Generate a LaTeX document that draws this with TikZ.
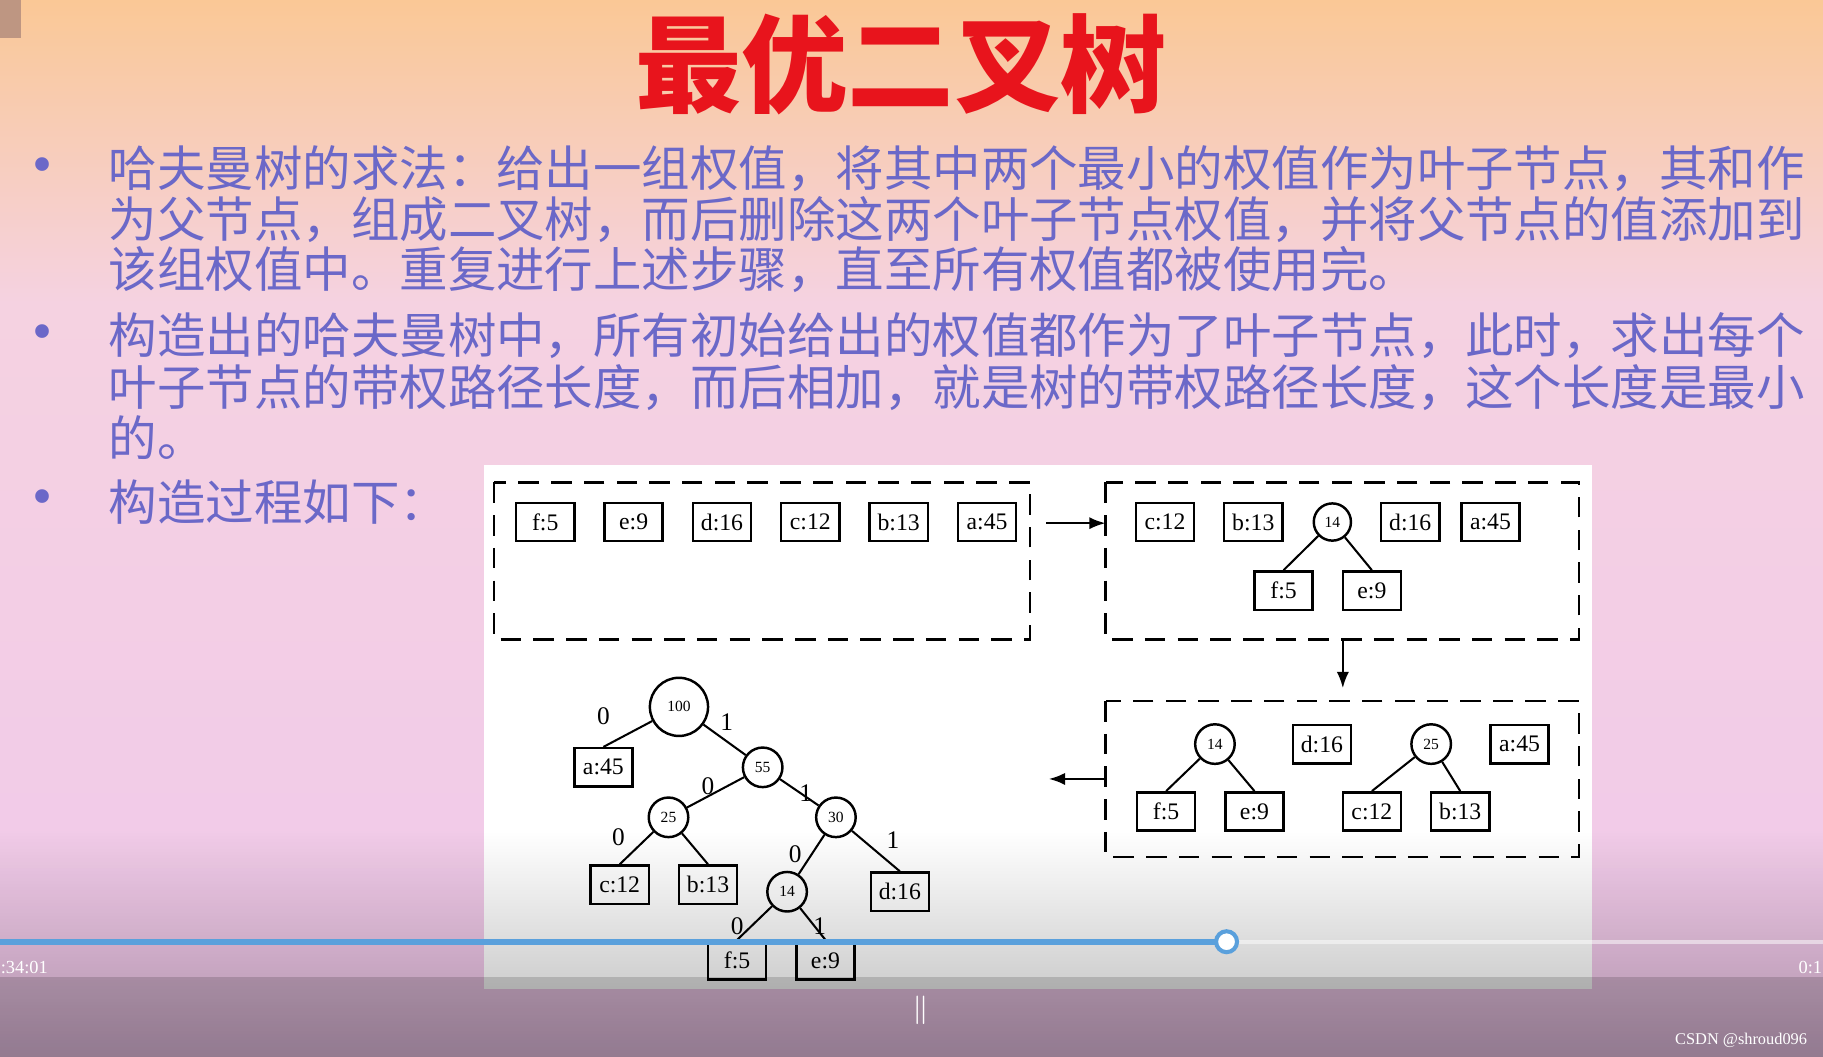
\documentclass[tikz,border=0pt]{standalone}
\usepackage{fontspec}
\setmainfont{Liberation Serif}
\newfontfamily\cjk{Noto Sans CJK SC}
\usetikzlibrary{fadings,arrows.meta}
\definecolor{txtblue}{HTML}{6B68C8}
\definecolor{titlered}{HTML}{E8141C}
\definecolor{bgtop}{RGB}{250,200,150}
\definecolor{bgmid}{RGB}{245,210,225}
\definecolor{bgbot}{RGB}{240,200,235}
\definecolor{corner}{RGB}{190,150,130}
\definecolor{prog}{RGB}{90,160,220}
\begin{document}
\begin{tikzpicture}[x=0.01cm,y=-0.01cm,
  lf/.style={draw,semithick,minimum width=0.5cm,minimum height=0.33cm,inner sep=0pt,font=\fontsize{5.8}{7}\selectfont,fill=white},
  cn/.style={draw,circle,semithick,inner sep=0pt,font=\fontsize{3.8}{5}\selectfont,fill=white},
  lab/.style={font=\fontsize{6.2}{7}\selectfont,inner sep=0pt},
  ln/.style={line width=0.5pt},
  dbox/.style={draw,semithick,dash pattern=on 5pt off 3pt},
  arr/.style={semithick,-{Latex[length=4pt]}},
  line/.style={anchor=west,inner sep=0pt,text=txtblue,font=\cjk\fontsize{11.85}{13}\selectfont},
  bul/.style={text=txtblue,font=\fontsize{14}{14}\selectfont,inner sep=0pt}]
\useasboundingbox (0,0) rectangle (1568,909);
\shade[top color=bgtop,bottom color=bgmid] (0,0) rectangle (1568,260);
\shade[top color=bgmid,bottom color=bgbot] (0,259) rectangle (1568,909);
\fill[corner] (0,0) rectangle (18,33);
\node[text=titlered,font=\cjk\bfseries\fontsize{26}{28}\selectfont] (title) at (775,55) {最优二叉树};
\node[bul] (b1) at (37,147) {•};
\node[bul] (b2) at (37,290) {•};
\node[bul] (b3) at (37,432) {•};
\node[line] (l1) at (93,145) {哈夫曼树的求法：给出一组权值，将其中两个最小的权值作为叶子节点，其和作};
\node[line] (l2) at (93,189) {为父节点，组成二叉树，而后删除这两个叶子节点权值，并将父节点的值添加到};
\node[line] (l3) at (93,232) {该组权值中。重复进行上述步骤，直至所有权值都被使用完。};
\node[line] (l4) at (93,289) {构造出的哈夫曼树中，所有初始给出的权值都作为了叶子节点，此时，求出每个};
\node[line] (l5) at (93,333) {叶子节点的带权路径长度，而后相加，就是树的带权路径长度，这个长度是最小};
\node[line] (l6) at (93,376) {的。};
\node[line] (l7) at (93,432) {构造过程如下：};
% diagram
\fill[white] (416,400) rectangle (1369,851);
\draw[dbox] (425,415) rectangle (886,550);
\foreach \n/\t/\x in {a1/f:5/469,a2/e:9/545,a3/d:16/621,a4/c:12/697,a5/b:13/773,a6/a:45/849}
  \node[lf] (\n) at (\x,449) {\t};
\draw[dbox] (951,415) rectangle (1358,550);
\node[lf] (b1c) at (1002,449) {c:12};
\node[lf] (b1b) at (1078,449) {b:13};
\node[cn,minimum size=0.32cm] (b14) at (1146,449) {14};
\node[lf] (b1d) at (1213,449) {d:16};
\node[lf] (b1a) at (1282,449) {a:45};
\node[lf] (b1f) at (1104,508) {f:5};
\node[lf] (b1e) at (1180,508) {e:9};
\draw[ln] (b14) -- (b1f.north); \draw[ln] (b14) -- (b1e.north);
\coordinate (p1) at (900,450); \coordinate (p2) at (951,450);
\draw[arr] (p1) -- (p2);
\coordinate (p3) at (1155,551); \coordinate (p4) at (1155,592);
\draw[arr] (p3) -- (p4);
\draw[dbox] (951,603) rectangle (1358,737);
\node[cn,minimum size=0.34cm] (c14) at (1045,640) {14};
\node[lf] (cd) at (1137,640) {d:16};
\node[cn,minimum size=0.34cm] (c25) at (1231,640) {25};
\node[lf] (ca) at (1307,640) {a:45};
\node[lf] (cf) at (1003,698) {f:5};
\node[lf] (ce) at (1079,698) {e:9};
\node[lf] (cc) at (1180,698) {c:12};
\node[lf] (cb) at (1256,698) {b:13};
\draw[ln] (c14) -- (cf.north); \draw[ln] (c14) -- (ce.north);
\draw[ln] (c25) -- (cc.north); \draw[ln] (c25) -- (cb.north);
\coordinate (p5) at (951,670); \coordinate (p6) at (902,670);
\draw[arr] (p5) -- (p6);
% final tree
\node[cn,minimum size=0.5cm] (t100) at (584,608) {100};
\node[lf] (ta) at (519,660) {a:45};
\node[cn,minimum size=0.34cm] (t55) at (656,660) {55};
\node[cn,minimum size=0.34cm] (t25) at (575,703) {25};
\node[cn,minimum size=0.34cm] (t30) at (719,703) {30};
\node[lf] (tc) at (533,761) {c:12};
\node[lf] (tb) at (609,761) {b:13};
\node[cn,minimum size=0.34cm] (t14) at (677,767) {14};
\node[lf] (td) at (774,767) {d:16};
\node[lf] (tf) at (634,826) {f:5};
\node[lf] (te) at (710,826) {e:9};
\draw[ln] (t100) -- (ta.north); \draw[ln] (t100) -- (t55);
\draw[ln] (t55) -- (t25); \draw[ln] (t55) -- (t30);
\draw[ln] (t25) -- (tc.north); \draw[ln] (t25) -- (tb.north);
\draw[ln] (t30) -- (t14); \draw[ln] (t30) -- (td.north);
\draw[ln] (t14) -- (tf.north); \draw[ln] (t14) -- (te.north);
\foreach \t/\x/\y [count=\i] in {0/519/616,1/625/621,0/609/676,1/693/682,0/532/720,0/684/735,1/768/723,0/634/797,1/705/797}
  \node[lab] (w\i) at (\x,\y) {\t};
% player overlay
\fill[black,opacity=0.28,path fading=north] (0,715) rectangle (1568,909);
\fill[black,opacity=0.15] (0,840) rectangle (1568,909);
\draw[white,opacity=0.5,line width=1pt] (1055,810) -- (1568,810);
\draw[prog,line width=1.5pt] (0,810) -- (1055,810);
\node[circle,draw=prog,fill=white,line width=1pt,minimum size=0.18cm,inner sep=0pt] (knob) at (1055,810) {};
\node[text=white,font=\fontsize{4.5}{5}\selectfont,anchor=west,inner sep=0pt] (tl) at (0,832) {:34:01};
\node[text=white,font=\fontsize{4.5}{5}\selectfont,anchor=east,inner sep=0pt] (tr) at (1568,832) {0:1};
\node[text=white,font=\fontsize{4}{5}\selectfont,anchor=east,inner sep=0pt] (csdn) at (1555,895) {CSDN @shroud096};
\node[text=white,font=\fontsize{7}{8}\selectfont] (pause) at (792,869) {$\parallel$};
\end{tikzpicture}
\end{document}
